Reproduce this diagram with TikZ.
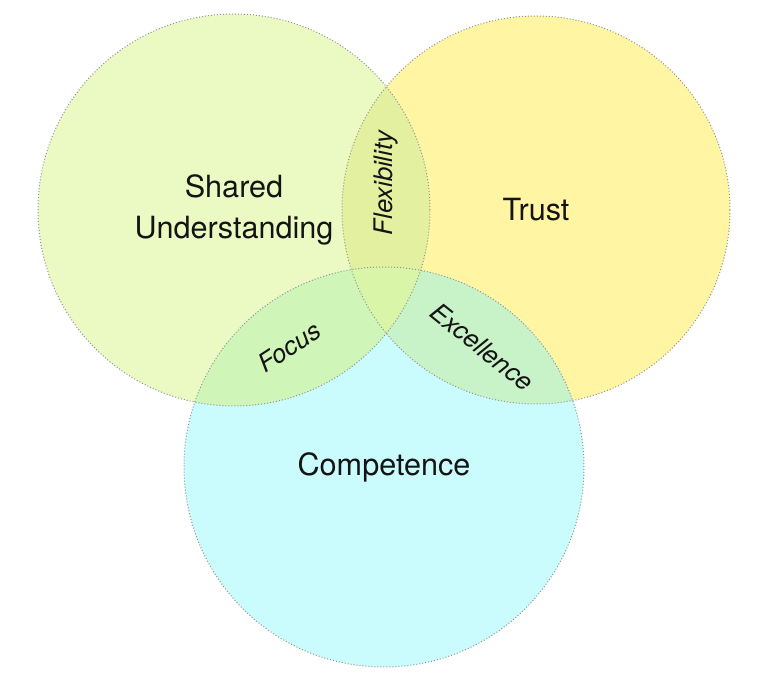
\documentclass[tikz,border=0pt]{standalone}
\usepackage{fontspec}
\setmainfont{TeX Gyre Heros}
\usepackage{tikz}
\usetikzlibrary{positioning}
\definecolor{sharedfill}{HTML}{EBFAC3}
\definecolor{trustfill}{HTML}{FFF5A3}
\definecolor{compfill}{HTML}{CBFCFD}
\definecolor{flexfill}{HTML}{E3F0A0}
\definecolor{focusfill}{HTML}{CFF5B8}
\definecolor{excelfill}{HTML}{C8F2C8}
\definecolor{centerfill}{HTML}{D8F5A8}
\tikzset{
  venndisc/.style={draw=gray!85, densely dotted, line width=0.5pt},
  vennlabel/.style={font=\fontsize{15.3}{20.5}\selectfont, align=center, text=black!92},
  vennpart/.style={font=\fontsize{12.8}{15}\selectfont\itshape, text=black!92},
}

\begin{document}
\begin{tikzpicture}[x=0.5pt,y=0.5pt]
  \useasboundingbox (0,0) rectangle (768,684);
  % 中心
  \coordinate (su) at (234,474);
  \coordinate (tr) at (536,474);
  \coordinate (co) at (384,217);
  % 円
  \fill[sharedfill] (su) circle[radius=196];
  \fill[trustfill] (tr) circle[radius=194];
  \fill[compfill] (co) circle[radius=200];
  % 重なり
  \begin{scope}
    \clip (su) circle[radius=196];
    \fill[flexfill] (tr) circle[radius=194];
    \fill[focusfill] (co) circle[radius=200];
  \end{scope}
  \begin{scope}
    \clip (tr) circle[radius=194];
    \fill[excelfill] (co) circle[radius=200];
    \clip (su) circle[radius=196];
    \fill[centerfill] (co) circle[radius=200];
  \end{scope}
  % 縁
  \foreach \c/\r in {su/196,tr/194,co/200} \draw[venndisc] (\c) circle[radius=\r];
  % ラベル
  \node[vennlabel] (shared) at (su) {Shared\\Understanding};
  \node[vennlabel] (trust) at (tr) {Trust};
  \node[vennlabel] (comp) at (co) {Competence};
  \node[vennpart, rotate=90] (flex) at (386,501) {Flexibility};
  \node[vennpart, rotate=33] (focus) at (289,337) {Focus};
  \node[vennpart, rotate=-39] (excel) at (482,337) {Excellence};
\end{tikzpicture}
\end{document}
